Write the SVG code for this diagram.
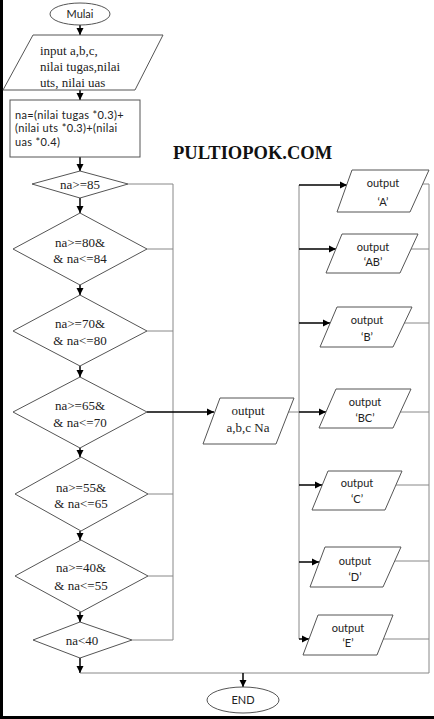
<svg xmlns="http://www.w3.org/2000/svg" width="434" height="719" viewBox="0 0 434 719">
<defs>
<marker id="ah" markerUnits="userSpaceOnUse" markerWidth="8" markerHeight="8" refX="7" refY="4" orient="auto"><path d="M0,0.5 L7,4 L0,7.5 z" fill="#000"/></marker>
<style>
.shape{fill:#fff;stroke:#555;stroke-width:1}
.serif{font-family:"Liberation Serif","Times New Roman",serif;font-size:13px;fill:#222;text-anchor:middle}
.sans{font-family:Lato,"Open Sans",sans-serif;font-size:11px;fill:#222;text-anchor:middle}
.calc{font-family:Lato,"Open Sans",sans-serif;font-size:11px;fill:#222;letter-spacing:0.35px}
.line{fill:none;stroke:#888;stroke-width:1}
.arrow{fill:none;stroke:#000;stroke-width:1.5;marker-end:url(#ah)}
</style>
</defs>
<rect width="434" height="719" fill="#fff"/>
<rect x="0" y="0" width="3" height="719" fill="#000"/>
<rect x="0" y="716" width="434" height="3" fill="#000"/>

<g id="connectors">
<path class="arrow" d="M80,25 V35"/>
<path class="arrow" d="M80,90 V100"/>
<path class="arrow" d="M80,157 V171"/>
<path class="arrow" d="M80,198 V213"/>
<path class="arrow" d="M80,285 V295"/>
<path class="arrow" d="M80,366 V377"/>
<path class="arrow" d="M80,448 V457"/>
<path class="arrow" d="M80,531 V540"/>
<path class="arrow" d="M80,612 V622"/>
<path class="arrow" d="M80,658 V673"/>
<path class="line" d="M80,673 H429 V184 H423"/>
<path class="arrow" d="M243,673 V687"/>
<path class="line" d="M128,184 H173 V640 H132"/>
<path class="line" d="M147,249 H173"/>
<path class="line" d="M147,331 H173"/>
<path class="line" d="M148,494 H173"/>
<path class="line" d="M148,576 H173"/>
<path class="arrow" d="M147,412 H214"/>
<path class="line" d="M288,412 H299"/>
<path class="line" d="M299,185 V639"/>
<path class="arrow" d="M299,185 H347"/>
<path class="arrow" d="M299,249 H336"/>
<path class="arrow" d="M299,323 H330"/>
<path class="arrow" d="M299,412 H326"/>
<path class="arrow" d="M299,485 H322"/>
<path class="arrow" d="M299,562 H319"/>
<path class="arrow" d="M299,639 H309"/>
<path class="line" d="M411,249 H429"/>
<path class="line" d="M404,323 H429"/>
<path class="line" d="M400,412 H429"/>
<path class="line" d="M396,485 H429"/>
<path class="line" d="M395,561 H429"/>
<path class="line" d="M383,639 H429"/>
</g>

<g id="mulai"><ellipse class="shape" cx="80" cy="14" rx="30" ry="11"/><text class="sans" x="80" y="18">Mulai</text></g>
<g id="input"><polygon class="shape" points="33,35 163,35 135,90 3,90"/>
<text class="serif" style="text-anchor:start" x="40" y="55">input a,b,c,</text>
<text class="serif" style="text-anchor:start" x="40" y="71">nilai tugas,nilai</text>
<text class="serif" style="text-anchor:start" x="40" y="87">uts, nilai uas</text></g>
<g id="hitung"><rect class="shape" x="10" y="100" width="130" height="57"/>
<text class="calc" x="15" y="119">na=(nilai tugas *0.3)+</text>
<text class="calc" x="15" y="132">(nilai uts *0.3)+(nilai</text>
<text class="calc" x="15" y="146">uas *0.4)</text></g>
<text x="173" y="159" style="font-family:'Liberation Serif','Times New Roman',serif;font-weight:bold;font-size:18.5px;fill:#111">PULTIOPOK.COM</text>

<g id="d1"><polygon class="shape" points="80,171 128,184 80,198 32,184"/><text class="serif" x="80" y="189">na&gt;=85</text></g>
<g id="d2"><polygon class="shape" points="80,213 147,249 80,285 13,249"/><text class="serif" x="80" y="247">na&gt;=80&amp;</text><text class="serif" x="80" y="263">&amp; na&lt;=84</text></g>
<g id="d3"><polygon class="shape" points="80,295 147,331 80,366 13,331"/><text class="serif" x="80" y="328">na&gt;=70&amp;</text><text class="serif" x="80" y="345">&amp; na&lt;=80</text></g>
<g id="d4"><polygon class="shape" points="80,377 147,412 80,448 13,412"/><text class="serif" x="80" y="410">na&gt;=65&amp;</text><text class="serif" x="80" y="427">&amp; na&lt;=70</text></g>
<g id="d5"><polygon class="shape" points="81,457 148,494 81,531 15,494"/><text class="serif" x="81" y="492">na&gt;=55&amp;</text><text class="serif" x="81" y="508">&amp; na&lt;=65</text></g>
<g id="d6"><polygon class="shape" points="81,540 148,576 81,612 15,576"/><text class="serif" x="81" y="572">na&gt;=40&amp;</text><text class="serif" x="81" y="590">&amp; na&lt;=55</text></g>
<g id="d7"><polygon class="shape" points="80,622 132,640 80,658 33,640"/><text class="serif" x="82" y="645">na&lt;40</text></g>

<g id="outNa"><polygon class="shape" points="220,398 294,398 276,444 203,444"/><text class="serif" x="248" y="415">output</text><text class="serif" x="248" y="432">a,b,c Na</text></g>
<g id="outA"><polygon class="shape" points="352,170 429,170 410,212 337,212"/><text class="sans" x="383" y="187">output</text><text class="sans" x="383" y="206">‘A’</text></g>
<g id="outAB"><polygon class="shape" points="342,234 418,234 400,273 326,273"/><text class="sans" x="373" y="251">output</text><text class="sans" x="373" y="266">‘AB’</text></g>
<g id="outB"><polygon class="shape" points="337,307 412,307 393,347 320,347"/><text class="sans" x="367" y="324">output</text><text class="sans" x="367" y="341">‘B’</text></g>
<g id="outBC"><polygon class="shape" points="336,389 411,389 393,428 319,428"/><text class="sans" x="365" y="406">output</text><text class="sans" x="365" y="422">‘BC’</text></g>
<g id="outC"><polygon class="shape" points="328,471 402,471 385,510 312,510"/><text class="sans" x="357" y="487">output</text><text class="sans" x="357" y="503">‘C’</text></g>
<g id="outD"><polygon class="shape" points="325,547 401,547 383,587 310,587"/><text class="sans" x="355" y="565">output</text><text class="sans" x="355" y="581">‘D’</text></g>
<g id="outE"><polygon class="shape" points="318,615 393,615 377,655 303,655"/><text class="sans" x="348" y="632">output</text><text class="sans" x="348" y="647">‘E’</text></g>
<g id="end"><ellipse class="shape" cx="243" cy="700" rx="36" ry="13"/><text class="sans" x="243" y="704">END</text></g>
</svg>
